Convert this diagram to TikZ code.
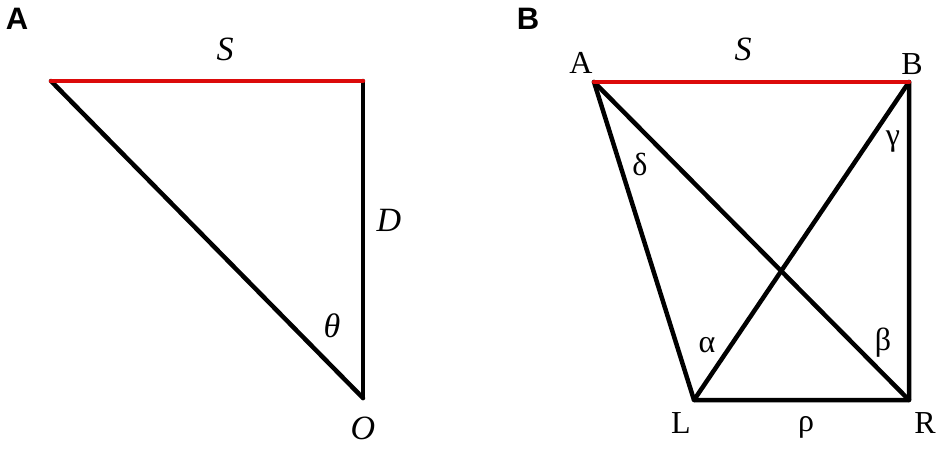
\documentclass[tikz,border=0pt]{standalone}
\usepackage{fontspec}
\setmainfont{Liberation Serif}
\newfontfamily\panelfont{Liberation Sans}
\begin{document}
\begin{tikzpicture}[x=1pt,y=-1pt,
  seg/.style={line width=4.5pt,line cap=round,line join=round},
  redseg/.style={seg,draw={rgb,255:red,220;green,10;blue,10}},
  blackseg/.style={seg,draw=black},
  lab/.style={inner sep=0pt,font=\fontsize{32}{32}\selectfont},
  ilab/.style={inner sep=0pt,font=\fontsize{34}{34}\selectfont\itshape},
  panel/.style={inner sep=0pt,font=\fontsize{31}{31}\selectfont\panelfont\bfseries}]
\useasboundingbox (0,0) rectangle (950,455);
% Panel A
\node[panel] (pA) at (17,19) {A};
\coordinate (a1) at (51,81);
\coordinate (a2) at (363,81);
\coordinate (aO) at (363,398);
\draw[blackseg] (a1) -- (aO);
\draw[blackseg] (a2) -- (aO);
\draw[redseg] (a1) -- (a2);
\node[ilab] (S1) at (225,49) {S};
\node[ilab] (D1) at (389,220) {D};
\node[ilab] (th) at (332,326) {θ};
\node[ilab] (O1) at (363,428) {O};
% Panel B
\node[panel] (pB) at (528,19) {B};
\coordinate (A) at (594,82);
\coordinate (B) at (909,82);
\coordinate (L) at (694,400);
\coordinate (R) at (909,400);
\draw[blackseg] (A) -- (L) -- (R) -- (B);
\draw[blackseg] (A) -- (R);
\draw[blackseg] (L) -- (B);
\draw[redseg] (A) -- (B);
\node[lab] (lA) at (581,63) {A};
\node[lab] (lB) at (912,64) {B};
\node[ilab] (S2) at (743,49) {S};
\node[lab] (de) at (640,164) {δ};
\node[lab] (ga) at (893,142) {γ};
\node[lab] (al) at (707,345) {α};
\node[lab] (be) at (883,343) {β};
\node[lab] (lL) at (681,423) {L};
\node[lab] (rho) at (806,427) {ρ};
\node[lab] (lR) at (925,423) {R};
\end{tikzpicture}
\end{document}
